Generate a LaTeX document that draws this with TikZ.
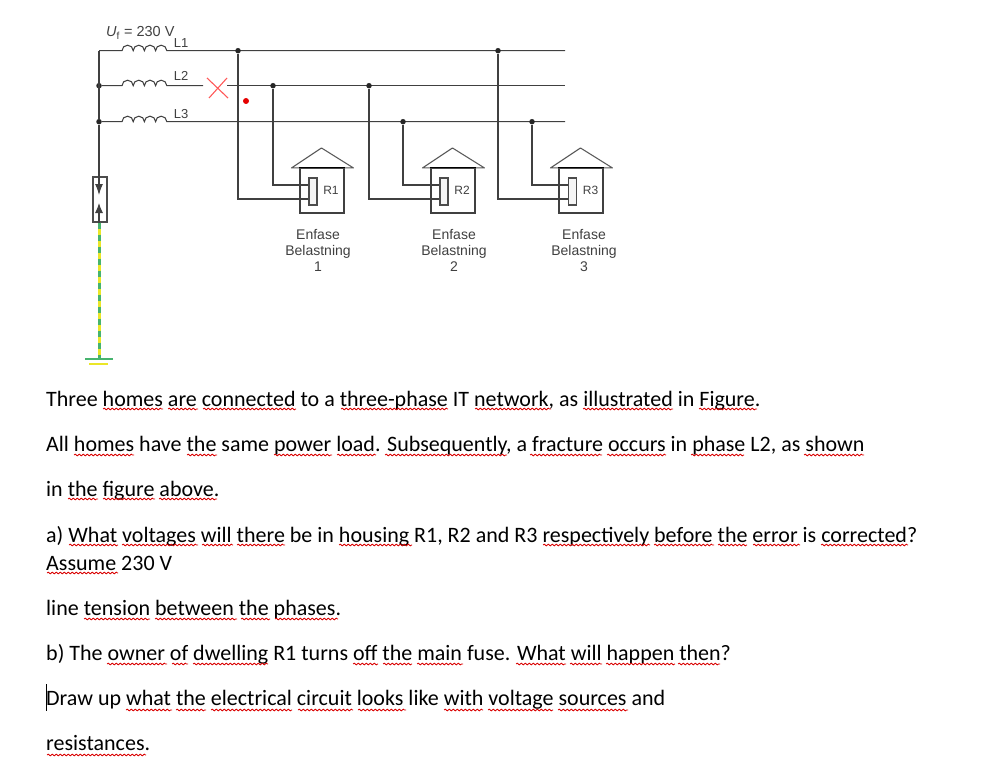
\documentclass[tikz,border=0pt]{standalone}
\usepackage{fontspec}
\setmainfont{Carlito}
\newfontfamily\figfont{Liberation Sans}
\usetikzlibrary{arrows.meta,decorations.pathmorphing}
\definecolor{earthgreen}{RGB}{70,180,110}
\definecolor{earthyellow}{RGB}{235,230,40}
\tikzset{
	wire/.style={black!75, line width=1.05pt},
	dot/.style={circle, fill=black!85, inner sep=0pt, minimum size=5.5pt},
	house/.style={draw=black!75, line width=1.05pt, minimum width=44pt, minimum height=45pt, inner sep=0pt},
	load/.style={draw=black!70, fill=black!4, line width=1.1pt, minimum width=8pt, minimum height=27pt, inner sep=0pt},
	figlabel/.style={font=\figfont\fontsize{13}{13}\selectfont, text=black!75, inner sep=0pt},
	caption/.style={font=\figfont\fontsize{14}{16}\selectfont, text=black!75, inner sep=0pt, align=center, anchor=north},
	body/.style={font=\fontsize{22}{24}\selectfont, anchor=base west, inner sep=0pt},
	squig/.style={red!85!black, line width=0.8pt, decorate, decoration={snake, amplitude=0.9pt, segment length=4pt}},
}
\begin{document}
\begin{tikzpicture}[x=1pt, y=-1pt]
	\def\hump{arc[start angle=180, end angle=0, x radius=5.6pt, y radius=5.5pt]}
	\useasboundingbox (0,0) rectangle (984,778);

	% --- Sorgente ---
	\coordinate (busA) at (99,50.7);
	\node[dot] (busB) at (99,85.7) {};
	\node[dot] (busC) at (99,121.7) {};
	\coordinate (endA) at (565,50.7);
	\coordinate (endB) at (565,85.7);
	\coordinate (endC) at (565,121.7);
	\coordinate (gapL) at (203,85.7);
	\coordinate (gapR) at (227,85.7);

	\draw[wire] (busA) -- ++(23,0) \hump \hump \hump \hump -- (endA);
	\draw[wire] (busB) -- ++(23,0) \hump \hump \hump \hump -- (gapL);
	\draw[wire] (gapR) -- (endB);
	\draw[wire] (busC) -- ++(23,0) \hump \hump \hump \hump -- (endC);
	\draw[wire] (busA) -- (busC);

	\node[figlabel, font=\figfont\fontsize{14.5}{14.5}\selectfont, anchor=base west] (Uf) at (106,37) {\textit{U}\textsubscript{f} = 230 V};
	\node[figlabel] (Lone) at (181,43) {L1};
	\node[figlabel] (Ltwo) at (181,76) {L2};
	\node[figlabel] (Lthree) at (181,114) {L3};

	% --- Guasto ---
	\draw[red!65, line width=1.1pt] (207,78) -- (228,98);
	\draw[red!65, line width=1.1pt] (209,98) -- (227,78);
	\node[dot, fill=red!90!black, minimum size=6pt] (fault) at (246,101) {};

	% --- Scaricatore e terra ---
	\node[draw=black!70, line width=1.1pt, minimum width=14pt, minimum height=45pt, inner sep=0pt] (arrester) at (100,199.5) {};
	\coordinate (tipA) at (99,195);
	\coordinate (tipB) at (99,203);
	\coordinate (earth) at (99,359);
	\draw[wire, -{Latex[length=11pt, width=8pt]}] (busC) -- (tipA);
	\draw[wire, -{Latex[length=10pt, width=8pt]}] (arrester.south -| tipB) -- (tipB);
	\draw[earthyellow, line width=3pt] (arrester.south -| earth) -- (earth);
	\draw[earthgreen, line width=3pt, dash pattern=on 6pt off 6pt] (arrester.south -| earth) -- (earth);
	\coordinate (earthL) at (85,359);
	\coordinate (earthR) at (113,359);
	\draw[earthgreen, line width=1.7pt] (earthL) -- (earthR);
	\coordinate (earthLb) at (89,364);
	\coordinate (earthRb) at (108,364);
	\draw[earthyellow, line width=1.7pt] (earthLb) -- (earthRb);

	% --- Abitazioni ---
	\foreach \hx/\rx/\num/\capx/\ax/\ay/\bx/\by in {
		322/313/1/318/238/50.7/273/85.7,
		453/444/2/454/369/85.7/403/121.7,
		581/572.5/3/584/498/50.7/532/121.7}{
		\node[house] (H\num) at (\hx,190.5) {};
		\node[load] (R\num) at (\rx,191.5) {};
		\node[figlabel, font=\figfont\fontsize{12}{12}\selectfont] (N\num) at (\rx+18,190) {R\num};
		\node[caption] (C\num) at (\capx,229.5) {Enfase\\Belastning\\\num};
		\node[dot] (JA\num) at (\ax,\ay) {};
		\node[dot] (JB\num) at (\bx,\by) {};
		\draw[wire] (JA\num) |- ([yshift=-7.5pt]R\num.west);
		\draw[wire] (JB\num) |- ([yshift=6.5pt]R\num.west);
		% Tetto
		\draw[black!65, line width=1.05pt, line join=round] (H\num.north west) ++(-8,0.5) -- ++(30,-20) -- ++(32,20) -- cycle;
		\draw[black, line width=1.8pt] (H\num.north west) -- (H\num.north east);
	}

	% --- Testo ---
	\node[body] (lineA) at (46,406) {Three homes are connected to a three-phase IT network, as illustrated in Figure.};
	\node[body] (lineB) at (46,451) {All homes have the same power load. Subsequently, a fracture occurs in phase L2, as shown};
	\node[body] (lineC) at (46,496) {in the figure above.};
	\node[body] (lineD) at (46,542) {a) What voltages will there be in housing R1, R2 and R3 respectively before the error is corrected?};
	\node[body] (lineE) at (46,570) {Assume 230 V};
	\node[body] (lineF) at (46,615) {line tension between the phases.};
	\node[body] (lineG) at (46,660) {b) The owner of dwelling R1 turns off the main fuse. What will happen then?};
	\node[body] (lineH) at (46,705) {Draw up what the electrical circuit looks like with voltage sources and};
	\node[body] (lineI) at (46,750) {resistances.};
	\coordinate (caretT) at (46.5,684);
	\coordinate (caretB) at (46.5,711);
	\draw[black, line width=0.8pt] (caretT) -- (caretB);

	% Sottolineature rosse
	\foreach \xa/\xb/\yy in {
		103/163/409, 168/198/409, 203/296/409, 341/448/409, 475/551/409, 583/673/409, 699/757/409,
		74/134/455, 187/217/455, 274/332/455, 337/376/455, 385/507/455, 530/602/455, 607/666/455, 691/744/455, 804/864/455,
		68/98/499, 103/155/499, 159/217/499,
		69/118/545, 122/198/545, 202/233/545, 237/285/545, 339/412/545, 543/650/545, 654/714/545, 718/747/545, 753/800/545, 821/908/545,
		47/118/573,
		84/150/619, 155/237/619, 241/270/619, 275/338/619,
		107/167/664, 172/188/664, 193/268/664, 353/378/664, 383/412/664, 417/463/664, 516/566/664, 570/602/664, 606/675/664, 678/720/664,
		126/172/710, 176/206/710, 211/292/710, 298/353/710, 358/406/710, 444/483/710, 488/553/710, 558/628/710,
		47/146/755}{
		\draw[squig] (\xa,\yy) -- (\xb,\yy);
	}
\end{tikzpicture}
\end{document}
